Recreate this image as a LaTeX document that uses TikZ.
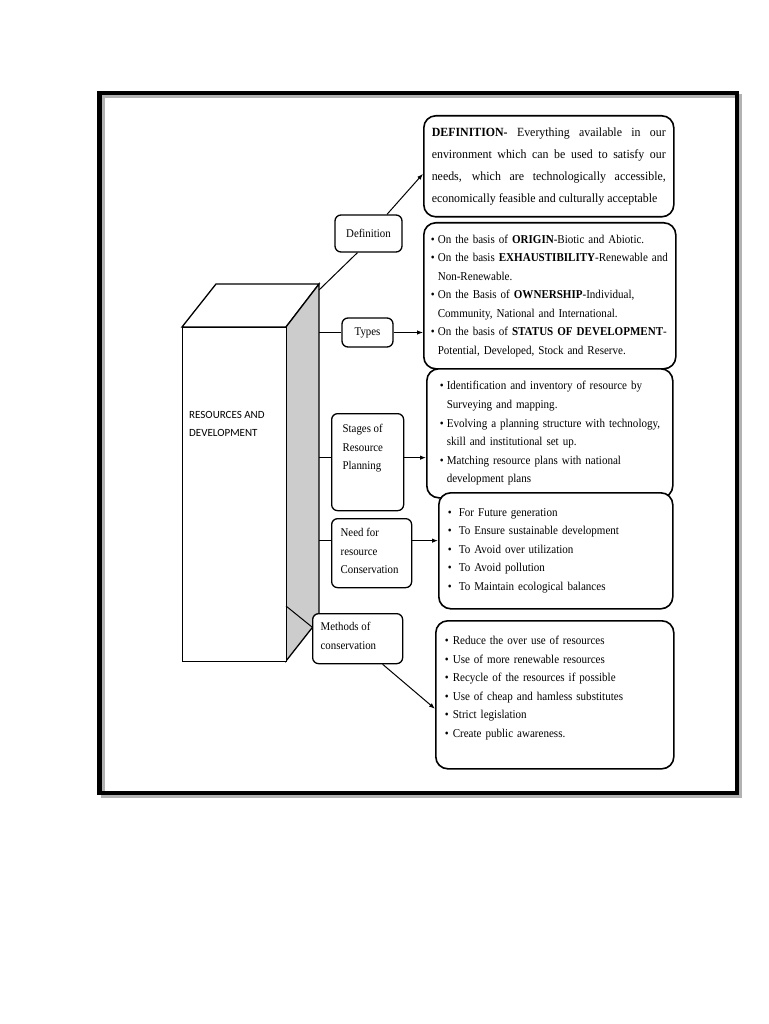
\documentclass[tikz,border=0pt]{standalone}
\usepackage{fontspec}
\setmainfont{Liberation Serif}[FakeStretch=0.92]
\newfontfamily\deffont{Liberation Serif}[FakeStretch=0.95]
\newfontfamily\rdfont{Carlito}
\usetikzlibrary{arrows.meta,calc}
\newcommand\bl[1]{\makebox[#1][l]{\textbullet}}
\newcommand\ind[1]{\hspace*{#1}}
\hyphenpenalty=10000
\exhyphenpenalty=10000
\begin{document}
\begin{tikzpicture}[x=1pt,y=-1pt,
  bigbox/.style={draw, line width=1.6pt, rounded corners=12pt, fill=white, align=left,
    font=\fontsize{12}{18.5}\selectfont, inner ysep=0pt},
  smallbox/.style={draw, line width=1.3pt, rounded corners=6pt, fill=white, inner ysep=0pt,
    font=\fontsize{11.8}{18.5}\selectfont},
  conn/.style={line width=1pt},
  arr/.style={line width=1pt, -{Latex[length=6pt,width=4.5pt]}},
  prism/.style={line width=1.3pt}
]
\useasboundingbox (0,0) rectangle (768,1024);
% page frame with shadow
\draw[line width=4pt, black!30] (102.5,96.5) rectangle (739.5,795.5);
\draw[line width=4.5pt] (99.25,93.25) rectangle (736.75,792.75);

% prism
\coordinate (ftl) at (182,327);
\coordinate (ftr) at (286,327);
\coordinate (fbr) at (286,661);
\coordinate (btl) at (216,284);
\coordinate (btr) at (319,284);
\coordinate (bbr) at (319,619);
\coordinate (dstart) at (319,290);
\coordinate (mstart) at (286,606);
\filldraw[prism, fill=white] (ftl) -- (btl) -- (btr) -- (ftr) -- cycle;
\filldraw[prism, fill=gray!40] (ftr) -- (btr) -- (bbr) -- (fbr) -- cycle;
\node[draw, prism, fill=white, minimum width=104pt, minimum height=334pt, anchor=north west, inner sep=0pt] (front) at (ftl) {};
\node[anchor=north west, inner sep=0pt, align=left, font=\rdfont\fontsize{11}{18}\selectfont] (rdtext) at (189,411) {RESOURCES AND\\DEVELOPMENT};

% small label boxes
\node[smallbox, inner xsep=0pt, minimum width=67pt, minimum height=37pt] (def) at (368.5,233.5) {Definition};
\node[smallbox, inner xsep=0pt, minimum width=51pt, minimum height=29pt] (types) at (367.5,332.5) {Types};
\node[smallbox, inner xsep=11pt, inner ysep=11pt, anchor=north west] (stages) at (331,413)
  {\parbox[c][75pt][t]{50pt}{Stages of\\Resource\\Planning}};
\node[smallbox, inner xsep=9pt, inner ysep=10pt, anchor=north west] (need) at (331,518)
  {\parbox[c][49pt][t]{62pt}{Need for\\resource\\Conservation}};

% big boxes
\node[bigbox, inner xsep=8pt, text width=234pt, align=justify, minimum height=101pt, anchor=north west,
  font=\deffont\fontsize{12.5}{22}\selectfont] (defbox) at (423,115)
  {\textbf{DEFINITION-} Everything available in our\linebreak
   environment which can be used to satisfy our\linebreak
   needs, which are technologically accessible,\linebreak
   economically feasible and culturally acceptable};
\node[bigbox, inner xsep=7pt, text width=238pt, minimum height=146pt, anchor=north west] (typesbox) at (423,222)
  {\bl{7pt}On the basis of \textbf{ORIGIN}-Biotic and Abiotic.\\
   \bl{7pt}On the basis \textbf{EXHAUSTIBILITY}-Renewable and\\
   \ind{7pt}Non-Renewable.\\
   \bl{7pt}On the Basis of \textbf{OWNERSHIP}-Individual,\\
   \ind{7pt}Community, National and International.\\
   \bl{7pt}On the basis of \textbf{STATUS OF DEVELOPMENT}-\\
   \ind{7pt}Potential, Developed, Stock and Reserve.};
\node[bigbox, inner xsep=13pt, text width=220pt, minimum height=129pt, anchor=north west] (stagesbox) at (426,368)
  {\bl{7pt}Identification and inventory of resource by\\
   \ind{7pt}Surveying and mapping.\\
   \bl{7pt}\mbox{Evolving a planning structure with technology,}\\
   \ind{7pt}skill and institutional set up.\\
   \bl{7pt}Matching resource plans with national\\
   \ind{7pt}development plans};
\node[bigbox, inner xsep=9pt, text width=216pt, minimum height=116pt, anchor=north west] (needbox) at (438,492)
  {\bl{11pt}For Future generation\\
   \bl{11pt}To Ensure sustainable development\\
   \bl{11pt}To Avoid over utilization\\
   \bl{11pt}To Avoid pollution\\
   \bl{11pt}To Maintain ecological balances};
\node[bigbox, inner xsep=9pt, text width=220pt, minimum height=148pt, anchor=north west] (methbox) at (435,620)
  {\bl{8pt}Reduce the over use of resources\\
   \bl{8pt}Use of more renewable resources\\
   \bl{8pt}Recycle of the resources if possible\\
   \bl{8pt}Use of cheap and hamless substitutes\\
   \bl{8pt}Strict legislation\\
   \bl{8pt}Create public awareness.\\[-2pt]\mbox{}};

% connectors
\coordinate (sL) at ($(stages.west)+(0,-4.5)$);
\coordinate (sR) at ($(stages.east)+(0,-4.5)$);
\coordinate (nL) at ($(need.west)+(0,-12.5)$);
\coordinate (nR) at ($(need.east)+(0,-12.5)$);
\draw[conn] (dstart) -- (def.240);
\draw[arr] ($(def.north)+(18.5,0)$) -- ($(defbox.west)+(0,7.5)$);
\draw[conn] (types.west -| bbr) -- (types.west);
\draw[arr] (types.east) -- (typesbox.west |- types.east);
\draw[conn] (sL -| bbr) -- (sL);
\draw[arr] (sR) -- (sR -| stagesbox.west);
\draw[conn] (nL -| bbr) -- (nL);
\draw[arr] (nR) -- (nR -| needbox.west);

% methods box drawn over the prism corner
\draw[conn] (mstart) -- (312,627);
\node[smallbox, inner xsep=8pt, inner ysep=9pt, anchor=north west] (meth) at (312,613)
  {\parbox[c][32pt][t]{74pt}{Methods of\\conservation}};
\draw[arr] ($(meth.south)+(25,0)$) -- ($(methbox.west)+(0,14)$);
\end{tikzpicture}
\end{document}
